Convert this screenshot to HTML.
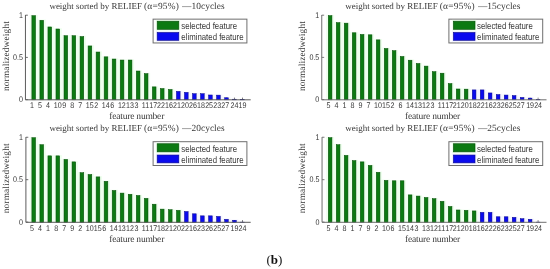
<!DOCTYPE html>
<html lang="en">
<head>
<meta charset="utf-8">
<title>RELIEF feature weights (b)</title>
<style>
html,body{margin:0;padding:0;background:#fff;}
body{width:550px;height:269px;overflow:hidden;position:relative;}
svg{display:block;position:absolute;left:0;top:0;text-rendering:geometricPrecision;}
.cap{position:absolute;left:266.5px;top:252.1px;font-family:"Liberation Serif",serif;font-size:13px;line-height:15px;color:#111;white-space:nowrap;}
.cap b{font-weight:bold;}
</style>
</head>
<body>
<svg width="550" height="269" viewBox="0 0 550 269">
<g>
<rect x="29.73" y="14.9" width="8" height="84.9" fill="#eeffee"/>
<rect x="37.76" y="19.54" width="8" height="80.26" fill="#eeffee"/>
<rect x="45.79" y="26.21" width="8" height="73.59" fill="#eeffee"/>
<rect x="53.82" y="28.24" width="8" height="71.56" fill="#eeffee"/>
<rect x="61.85" y="34.99" width="8" height="64.81" fill="#eeffee"/>
<rect x="69.88" y="34.99" width="8" height="64.81" fill="#eeffee"/>
<rect x="77.91" y="35.83" width="8" height="63.97" fill="#eeffee"/>
<rect x="85.94" y="45.2" width="8" height="54.6" fill="#eeffee"/>
<rect x="93.97" y="51.28" width="8" height="48.52" fill="#eeffee"/>
<rect x="102" y="56.09" width="8" height="43.71" fill="#eeffee"/>
<rect x="110.03" y="58.28" width="8" height="41.52" fill="#eeffee"/>
<rect x="118.06" y="59.29" width="8" height="40.51" fill="#eeffee"/>
<rect x="126.09" y="59.29" width="8" height="40.51" fill="#eeffee"/>
<rect x="134.12" y="70.27" width="8" height="29.53" fill="#eeffee"/>
<rect x="142.15" y="72.88" width="8" height="26.92" fill="#eeffee"/>
<rect x="150.18" y="86.13" width="8" height="13.67" fill="#eeffee"/>
<rect x="158.21" y="87.82" width="8" height="11.98" fill="#eeffee"/>
<rect x="166.24" y="88.75" width="8" height="11.05" fill="#eeffee"/>
<rect x="174.27" y="90.61" width="8" height="9.19" fill="#f5f5ff"/>
<rect x="182.3" y="91.62" width="8" height="8.18" fill="#f5f5ff"/>
<rect x="190.33" y="92.97" width="8" height="6.83" fill="#f5f5ff"/>
<rect x="198.36" y="92.97" width="8" height="6.83" fill="#f5f5ff"/>
<rect x="206.39" y="94.24" width="8" height="5.56" fill="#f5f5ff"/>
<rect x="214.42" y="94.4" width="8" height="5.4" fill="#f5f5ff"/>
<rect x="222.45" y="97.02" width="8" height="2.78" fill="#f5f5ff"/>
<line x1="33.73" y1="99.8" x2="33.73" y2="97.6" stroke="#5c5c5c" stroke-width="0.8"/>
<rect x="31.88" y="15.65" width="3.7" height="84.15" fill="#0c7a12" stroke="#064a09" stroke-width="0.5"/>
<line x1="41.76" y1="99.8" x2="41.76" y2="97.6" stroke="#5c5c5c" stroke-width="0.8"/>
<rect x="39.91" y="20.29" width="3.7" height="79.51" fill="#0c7a12" stroke="#064a09" stroke-width="0.5"/>
<line x1="49.79" y1="99.8" x2="49.79" y2="97.6" stroke="#5c5c5c" stroke-width="0.8"/>
<rect x="47.94" y="26.96" width="3.7" height="72.84" fill="#0c7a12" stroke="#064a09" stroke-width="0.5"/>
<line x1="57.82" y1="99.8" x2="57.82" y2="97.6" stroke="#5c5c5c" stroke-width="0.8"/>
<rect x="55.97" y="28.99" width="3.7" height="70.81" fill="#0c7a12" stroke="#064a09" stroke-width="0.5"/>
<line x1="65.85" y1="99.8" x2="65.85" y2="97.6" stroke="#5c5c5c" stroke-width="0.8"/>
<rect x="64" y="35.74" width="3.7" height="64.06" fill="#0c7a12" stroke="#064a09" stroke-width="0.5"/>
<line x1="73.88" y1="99.8" x2="73.88" y2="97.6" stroke="#5c5c5c" stroke-width="0.8"/>
<rect x="72.03" y="35.74" width="3.7" height="64.06" fill="#0c7a12" stroke="#064a09" stroke-width="0.5"/>
<line x1="81.91" y1="99.8" x2="81.91" y2="97.6" stroke="#5c5c5c" stroke-width="0.8"/>
<rect x="80.06" y="36.58" width="3.7" height="63.22" fill="#0c7a12" stroke="#064a09" stroke-width="0.5"/>
<line x1="89.94" y1="99.8" x2="89.94" y2="97.6" stroke="#5c5c5c" stroke-width="0.8"/>
<rect x="88.09" y="45.95" width="3.7" height="53.85" fill="#0c7a12" stroke="#064a09" stroke-width="0.5"/>
<line x1="97.97" y1="99.8" x2="97.97" y2="97.6" stroke="#5c5c5c" stroke-width="0.8"/>
<rect x="96.12" y="52.03" width="3.7" height="47.77" fill="#0c7a12" stroke="#064a09" stroke-width="0.5"/>
<line x1="106" y1="99.8" x2="106" y2="97.6" stroke="#5c5c5c" stroke-width="0.8"/>
<rect x="104.15" y="56.84" width="3.7" height="42.96" fill="#0c7a12" stroke="#064a09" stroke-width="0.5"/>
<line x1="114.03" y1="99.8" x2="114.03" y2="97.6" stroke="#5c5c5c" stroke-width="0.8"/>
<rect x="112.18" y="59.03" width="3.7" height="40.77" fill="#0c7a12" stroke="#064a09" stroke-width="0.5"/>
<line x1="122.06" y1="99.8" x2="122.06" y2="97.6" stroke="#5c5c5c" stroke-width="0.8"/>
<rect x="120.21" y="60.04" width="3.7" height="39.76" fill="#0c7a12" stroke="#064a09" stroke-width="0.5"/>
<line x1="130.09" y1="99.8" x2="130.09" y2="97.6" stroke="#5c5c5c" stroke-width="0.8"/>
<rect x="128.24" y="60.04" width="3.7" height="39.76" fill="#0c7a12" stroke="#064a09" stroke-width="0.5"/>
<line x1="138.12" y1="99.8" x2="138.12" y2="97.6" stroke="#5c5c5c" stroke-width="0.8"/>
<rect x="136.27" y="71.02" width="3.7" height="28.78" fill="#0c7a12" stroke="#064a09" stroke-width="0.5"/>
<line x1="146.15" y1="99.8" x2="146.15" y2="97.6" stroke="#5c5c5c" stroke-width="0.8"/>
<rect x="144.3" y="73.63" width="3.7" height="26.17" fill="#0c7a12" stroke="#064a09" stroke-width="0.5"/>
<line x1="154.18" y1="99.8" x2="154.18" y2="97.6" stroke="#5c5c5c" stroke-width="0.8"/>
<rect x="152.33" y="86.88" width="3.7" height="12.92" fill="#0c7a12" stroke="#064a09" stroke-width="0.5"/>
<line x1="162.21" y1="99.8" x2="162.21" y2="97.6" stroke="#5c5c5c" stroke-width="0.8"/>
<rect x="160.36" y="88.57" width="3.7" height="11.23" fill="#0c7a12" stroke="#064a09" stroke-width="0.5"/>
<line x1="170.24" y1="99.8" x2="170.24" y2="97.6" stroke="#5c5c5c" stroke-width="0.8"/>
<rect x="168.39" y="89.5" width="3.7" height="10.3" fill="#0c7a12" stroke="#064a09" stroke-width="0.5"/>
<line x1="178.27" y1="99.8" x2="178.27" y2="97.6" stroke="#5c5c5c" stroke-width="0.8"/>
<rect x="176.42" y="91.36" width="3.7" height="8.44" fill="#0a0aee" stroke="#08088a" stroke-width="0.5"/>
<line x1="186.3" y1="99.8" x2="186.3" y2="97.6" stroke="#5c5c5c" stroke-width="0.8"/>
<rect x="184.45" y="92.37" width="3.7" height="7.43" fill="#0a0aee" stroke="#08088a" stroke-width="0.5"/>
<line x1="194.33" y1="99.8" x2="194.33" y2="97.6" stroke="#5c5c5c" stroke-width="0.8"/>
<rect x="192.48" y="93.72" width="3.7" height="6.08" fill="#0a0aee" stroke="#08088a" stroke-width="0.5"/>
<line x1="202.36" y1="99.8" x2="202.36" y2="97.6" stroke="#5c5c5c" stroke-width="0.8"/>
<rect x="200.51" y="93.72" width="3.7" height="6.08" fill="#0a0aee" stroke="#08088a" stroke-width="0.5"/>
<line x1="210.39" y1="99.8" x2="210.39" y2="97.6" stroke="#5c5c5c" stroke-width="0.8"/>
<rect x="208.54" y="94.99" width="3.7" height="4.81" fill="#0a0aee" stroke="#08088a" stroke-width="0.5"/>
<line x1="218.42" y1="99.8" x2="218.42" y2="97.6" stroke="#5c5c5c" stroke-width="0.8"/>
<rect x="216.57" y="95.15" width="3.7" height="4.65" fill="#0a0aee" stroke="#08088a" stroke-width="0.5"/>
<line x1="226.45" y1="99.8" x2="226.45" y2="97.6" stroke="#5c5c5c" stroke-width="0.8"/>
<rect x="224.6" y="97.77" width="3.7" height="2.03" fill="#0a0aee" stroke="#08088a" stroke-width="0.5"/>
<line x1="234.48" y1="99.8" x2="234.48" y2="97.6" stroke="#5c5c5c" stroke-width="0.8"/>
<rect x="232.63" y="99.21" width="3.7" height="0.59" fill="#0a0aee" stroke="#08088a" stroke-width="0.5"/>
<line x1="242.51" y1="99.8" x2="242.51" y2="97.6" stroke="#5c5c5c" stroke-width="0.8"/>
<rect x="240.66" y="99.71" width="3.7" height="0.1" fill="#0a0aee" stroke="#08088a" stroke-width="0.5"/>
<path d="M25.45 15V99.8H250.7" fill="none" stroke="#5c5c5c" stroke-width="1"/>
<line x1="25.45" y1="99.6" x2="27.85" y2="99.6" stroke="#5c5c5c" stroke-width="0.9"/>
<text transform="translate(22.9 102.2) scale(0.87 1)" text-anchor="end" font-family='"Liberation Sans", sans-serif' font-size="8.2" fill="#383838">0</text>
<line x1="25.45" y1="57.4" x2="27.85" y2="57.4" stroke="#5c5c5c" stroke-width="0.9"/>
<text transform="translate(22.9 60) scale(0.87 1)" text-anchor="end" font-family='"Liberation Sans", sans-serif' font-size="8.2" fill="#383838">0.5</text>
<line x1="25.45" y1="15.2" x2="27.85" y2="15.2" stroke="#5c5c5c" stroke-width="0.9"/>
<text transform="translate(22.9 17.8) scale(0.87 1)" text-anchor="end" font-family='"Liberation Sans", sans-serif' font-size="8.2" fill="#383838">1</text>
<text transform="translate(32.03 108.3) scale(0.87 1)" text-anchor="middle" font-family='"Liberation Sans", sans-serif' font-size="8.2" fill="#383838">1</text>
<text transform="translate(40.06 108.3) scale(0.87 1)" text-anchor="middle" font-family='"Liberation Sans", sans-serif' font-size="8.2" fill="#383838">5</text>
<text transform="translate(48.09 108.3) scale(0.87 1)" text-anchor="middle" font-family='"Liberation Sans", sans-serif' font-size="8.2" fill="#383838">4</text>
<text transform="translate(57.62 108.3) scale(0.87 1)" text-anchor="middle" font-family='"Liberation Sans", sans-serif' font-size="8.2" fill="#383838">10</text>
<text transform="translate(64.15 108.3) scale(0.87 1)" text-anchor="middle" font-family='"Liberation Sans", sans-serif' font-size="8.2" fill="#383838">9</text>
<text transform="translate(72.18 108.3) scale(0.87 1)" text-anchor="middle" font-family='"Liberation Sans", sans-serif' font-size="8.2" fill="#383838">8</text>
<text transform="translate(80.21 108.3) scale(0.87 1)" text-anchor="middle" font-family='"Liberation Sans", sans-serif' font-size="8.2" fill="#383838">7</text>
<text transform="translate(89.74 108.3) scale(0.87 1)" text-anchor="middle" font-family='"Liberation Sans", sans-serif' font-size="8.2" fill="#383838">15</text>
<text transform="translate(96.27 108.3) scale(0.87 1)" text-anchor="middle" font-family='"Liberation Sans", sans-serif' font-size="8.2" fill="#383838">2</text>
<text transform="translate(105.8 108.3) scale(0.87 1)" text-anchor="middle" font-family='"Liberation Sans", sans-serif' font-size="8.2" fill="#383838">14</text>
<text transform="translate(112.33 108.3) scale(0.87 1)" text-anchor="middle" font-family='"Liberation Sans", sans-serif' font-size="8.2" fill="#383838">6</text>
<text transform="translate(121.86 108.3) scale(0.87 1)" text-anchor="middle" font-family='"Liberation Sans", sans-serif' font-size="8.2" fill="#383838">12</text>
<text transform="translate(129.89 108.3) scale(0.87 1)" text-anchor="middle" font-family='"Liberation Sans", sans-serif' font-size="8.2" fill="#383838">13</text>
<text transform="translate(136.42 108.3) scale(0.87 1)" text-anchor="middle" font-family='"Liberation Sans", sans-serif' font-size="8.2" fill="#383838">3</text>
<text transform="translate(145.55 108.3) scale(0.87 1)" text-anchor="middle" font-family='"Liberation Sans", sans-serif' font-size="8.2" fill="#383838">11</text>
<text transform="translate(153.28 108.3) scale(0.87 1)" text-anchor="middle" font-family='"Liberation Sans", sans-serif' font-size="8.2" fill="#383838">17</text>
<text transform="translate(160.91 108.3) scale(0.87 1)" text-anchor="middle" font-family='"Liberation Sans", sans-serif' font-size="8.2" fill="#383838">22</text>
<text transform="translate(168.94 108.3) scale(0.87 1)" text-anchor="middle" font-family='"Liberation Sans", sans-serif' font-size="8.2" fill="#383838">16</text>
<text transform="translate(176.97 108.3) scale(0.87 1)" text-anchor="middle" font-family='"Liberation Sans", sans-serif' font-size="8.2" fill="#383838">21</text>
<text transform="translate(185 108.3) scale(0.87 1)" text-anchor="middle" font-family='"Liberation Sans", sans-serif' font-size="8.2" fill="#383838">20</text>
<text transform="translate(193.03 108.3) scale(0.87 1)" text-anchor="middle" font-family='"Liberation Sans", sans-serif' font-size="8.2" fill="#383838">26</text>
<text transform="translate(201.06 108.3) scale(0.87 1)" text-anchor="middle" font-family='"Liberation Sans", sans-serif' font-size="8.2" fill="#383838">18</text>
<text transform="translate(209.09 108.3) scale(0.87 1)" text-anchor="middle" font-family='"Liberation Sans", sans-serif' font-size="8.2" fill="#383838">25</text>
<text transform="translate(217.12 108.3) scale(0.87 1)" text-anchor="middle" font-family='"Liberation Sans", sans-serif' font-size="8.2" fill="#383838">23</text>
<text transform="translate(225.15 108.3) scale(0.87 1)" text-anchor="middle" font-family='"Liberation Sans", sans-serif' font-size="8.2" fill="#383838">27</text>
<text transform="translate(234.48 108.3) scale(0.87 1)" text-anchor="middle" font-family='"Liberation Sans", sans-serif' font-size="8.2" fill="#383838">24</text>
<text transform="translate(242.51 108.3) scale(0.87 1)" text-anchor="middle" font-family='"Liberation Sans", sans-serif' font-size="8.2" fill="#383838">19</text>
<text x="49.4" y="8.5" textLength="92.5" font-family='"Liberation Serif", serif' font-size="9" fill="#383838">weight sorted by RELIEF</text>
<text x="143.9" y="8.5" textLength="35" font-family='"Liberation Serif", serif' font-size="9.4" fill="#383838">(α=95%)</text>
<text x="182.1" y="8.5" textLength="42.5" font-family='"Liberation Serif", serif' font-size="9.4" fill="#383838">—10cycles</text>
<text x="136.8" y="119.4" text-anchor="middle" textLength="55" font-family='"Liberation Serif", serif' font-size="9.5" fill="#383838">feature number</text>
<text transform="translate(8.7 56.1) rotate(-90)" text-anchor="middle" textLength="69.9" font-family='"Liberation Serif", serif' font-size="9.25" fill="#383838">normalizedweight</text>
<rect x="153.1" y="19.15" width="93.8" height="23.8" fill="#fff" stroke="#6e6e6e" stroke-width="1"/>
<rect x="155.9" y="19.9" width="24.2" height="10.7" fill="#eaffea"/>
<rect x="157.2" y="21.2" width="21.6" height="8.1" fill="#0c7a12" stroke="#064a09" stroke-width="0.6"/>
<rect x="155.9" y="31.2" width="24.2" height="10.4" fill="#efefff"/>
<rect x="157.2" y="32.5" width="21.6" height="7.8" fill="#0a0aee" stroke="#08088a" stroke-width="0.6"/>
<text transform="translate(181.3 29.3) scale(0.835 1)" font-family='"Liberation Sans", sans-serif' font-size="9.4" fill="#383838">selected feature</text>
<text transform="translate(181.3 40.3) scale(0.835 1)" font-family='"Liberation Sans", sans-serif' font-size="9.4" fill="#383838">eliminated feature</text>
</g>
<g>
<rect x="326.1" y="14.9" width="8" height="84.9" fill="#eeffee"/>
<rect x="334.1" y="21.91" width="8" height="77.89" fill="#eeffee"/>
<rect x="342.1" y="22.41" width="8" height="77.39" fill="#eeffee"/>
<rect x="350.1" y="32.03" width="8" height="67.77" fill="#eeffee"/>
<rect x="358.1" y="33.72" width="8" height="66.08" fill="#eeffee"/>
<rect x="366.1" y="34.06" width="8" height="65.74" fill="#eeffee"/>
<rect x="374.1" y="39.12" width="8" height="60.68" fill="#eeffee"/>
<rect x="382.1" y="47.73" width="8" height="52.07" fill="#eeffee"/>
<rect x="390.1" y="49.93" width="8" height="49.87" fill="#eeffee"/>
<rect x="398.1" y="55.75" width="8" height="44.05" fill="#eeffee"/>
<rect x="406.1" y="59.46" width="8" height="40.34" fill="#eeffee"/>
<rect x="414.1" y="62.75" width="8" height="37.05" fill="#eeffee"/>
<rect x="422.1" y="65.37" width="8" height="34.43" fill="#eeffee"/>
<rect x="430.1" y="70.94" width="8" height="28.86" fill="#eeffee"/>
<rect x="438.1" y="72.46" width="8" height="27.34" fill="#eeffee"/>
<rect x="446.1" y="82.84" width="8" height="16.96" fill="#eeffee"/>
<rect x="454.1" y="88.24" width="8" height="11.56" fill="#eeffee"/>
<rect x="462.1" y="88.41" width="8" height="11.39" fill="#eeffee"/>
<rect x="470.1" y="89.17" width="8" height="10.63" fill="#f5f5ff"/>
<rect x="478.1" y="89.17" width="8" height="10.63" fill="#f5f5ff"/>
<rect x="486.1" y="92.21" width="8" height="7.59" fill="#f5f5ff"/>
<rect x="494.1" y="93.81" width="8" height="5.99" fill="#f5f5ff"/>
<rect x="502.1" y="94.32" width="8" height="5.48" fill="#f5f5ff"/>
<rect x="510.1" y="94.83" width="8" height="4.97" fill="#f5f5ff"/>
<rect x="518.1" y="96.77" width="8" height="3.03" fill="#f5f5ff"/>
<rect x="526.1" y="97.36" width="8" height="2.44" fill="#f5f5ff"/>
<line x1="330.1" y1="99.8" x2="330.1" y2="97.6" stroke="#6e6e6e" stroke-width="0.8"/>
<rect x="328.25" y="15.65" width="3.7" height="84.15" fill="#0c7a12" stroke="#064a09" stroke-width="0.5"/>
<line x1="338.1" y1="99.8" x2="338.1" y2="97.6" stroke="#6e6e6e" stroke-width="0.8"/>
<rect x="336.25" y="22.66" width="3.7" height="77.14" fill="#0c7a12" stroke="#064a09" stroke-width="0.5"/>
<line x1="346.1" y1="99.8" x2="346.1" y2="97.6" stroke="#6e6e6e" stroke-width="0.8"/>
<rect x="344.25" y="23.16" width="3.7" height="76.64" fill="#0c7a12" stroke="#064a09" stroke-width="0.5"/>
<line x1="354.1" y1="99.8" x2="354.1" y2="97.6" stroke="#6e6e6e" stroke-width="0.8"/>
<rect x="352.25" y="32.78" width="3.7" height="67.02" fill="#0c7a12" stroke="#064a09" stroke-width="0.5"/>
<line x1="362.1" y1="99.8" x2="362.1" y2="97.6" stroke="#6e6e6e" stroke-width="0.8"/>
<rect x="360.25" y="34.47" width="3.7" height="65.33" fill="#0c7a12" stroke="#064a09" stroke-width="0.5"/>
<line x1="370.1" y1="99.8" x2="370.1" y2="97.6" stroke="#6e6e6e" stroke-width="0.8"/>
<rect x="368.25" y="34.81" width="3.7" height="64.99" fill="#0c7a12" stroke="#064a09" stroke-width="0.5"/>
<line x1="378.1" y1="99.8" x2="378.1" y2="97.6" stroke="#6e6e6e" stroke-width="0.8"/>
<rect x="376.25" y="39.87" width="3.7" height="59.93" fill="#0c7a12" stroke="#064a09" stroke-width="0.5"/>
<line x1="386.1" y1="99.8" x2="386.1" y2="97.6" stroke="#6e6e6e" stroke-width="0.8"/>
<rect x="384.25" y="48.48" width="3.7" height="51.32" fill="#0c7a12" stroke="#064a09" stroke-width="0.5"/>
<line x1="394.1" y1="99.8" x2="394.1" y2="97.6" stroke="#6e6e6e" stroke-width="0.8"/>
<rect x="392.25" y="50.68" width="3.7" height="49.12" fill="#0c7a12" stroke="#064a09" stroke-width="0.5"/>
<line x1="402.1" y1="99.8" x2="402.1" y2="97.6" stroke="#6e6e6e" stroke-width="0.8"/>
<rect x="400.25" y="56.5" width="3.7" height="43.3" fill="#0c7a12" stroke="#064a09" stroke-width="0.5"/>
<line x1="410.1" y1="99.8" x2="410.1" y2="97.6" stroke="#6e6e6e" stroke-width="0.8"/>
<rect x="408.25" y="60.21" width="3.7" height="39.59" fill="#0c7a12" stroke="#064a09" stroke-width="0.5"/>
<line x1="418.1" y1="99.8" x2="418.1" y2="97.6" stroke="#6e6e6e" stroke-width="0.8"/>
<rect x="416.25" y="63.5" width="3.7" height="36.3" fill="#0c7a12" stroke="#064a09" stroke-width="0.5"/>
<line x1="426.1" y1="99.8" x2="426.1" y2="97.6" stroke="#6e6e6e" stroke-width="0.8"/>
<rect x="424.25" y="66.12" width="3.7" height="33.68" fill="#0c7a12" stroke="#064a09" stroke-width="0.5"/>
<line x1="434.1" y1="99.8" x2="434.1" y2="97.6" stroke="#6e6e6e" stroke-width="0.8"/>
<rect x="432.25" y="71.69" width="3.7" height="28.11" fill="#0c7a12" stroke="#064a09" stroke-width="0.5"/>
<line x1="442.1" y1="99.8" x2="442.1" y2="97.6" stroke="#6e6e6e" stroke-width="0.8"/>
<rect x="440.25" y="73.21" width="3.7" height="26.59" fill="#0c7a12" stroke="#064a09" stroke-width="0.5"/>
<line x1="450.1" y1="99.8" x2="450.1" y2="97.6" stroke="#6e6e6e" stroke-width="0.8"/>
<rect x="448.25" y="83.59" width="3.7" height="16.21" fill="#0c7a12" stroke="#064a09" stroke-width="0.5"/>
<line x1="458.1" y1="99.8" x2="458.1" y2="97.6" stroke="#6e6e6e" stroke-width="0.8"/>
<rect x="456.25" y="88.99" width="3.7" height="10.81" fill="#0c7a12" stroke="#064a09" stroke-width="0.5"/>
<line x1="466.1" y1="99.8" x2="466.1" y2="97.6" stroke="#6e6e6e" stroke-width="0.8"/>
<rect x="464.25" y="89.16" width="3.7" height="10.64" fill="#0c7a12" stroke="#064a09" stroke-width="0.5"/>
<line x1="474.1" y1="99.8" x2="474.1" y2="97.6" stroke="#6e6e6e" stroke-width="0.8"/>
<rect x="472.25" y="89.92" width="3.7" height="9.88" fill="#0a0aee" stroke="#08088a" stroke-width="0.5"/>
<line x1="482.1" y1="99.8" x2="482.1" y2="97.6" stroke="#6e6e6e" stroke-width="0.8"/>
<rect x="480.25" y="89.92" width="3.7" height="9.88" fill="#0a0aee" stroke="#08088a" stroke-width="0.5"/>
<line x1="490.1" y1="99.8" x2="490.1" y2="97.6" stroke="#6e6e6e" stroke-width="0.8"/>
<rect x="488.25" y="92.96" width="3.7" height="6.84" fill="#0a0aee" stroke="#08088a" stroke-width="0.5"/>
<line x1="498.1" y1="99.8" x2="498.1" y2="97.6" stroke="#6e6e6e" stroke-width="0.8"/>
<rect x="496.25" y="94.56" width="3.7" height="5.24" fill="#0a0aee" stroke="#08088a" stroke-width="0.5"/>
<line x1="506.1" y1="99.8" x2="506.1" y2="97.6" stroke="#6e6e6e" stroke-width="0.8"/>
<rect x="504.25" y="95.07" width="3.7" height="4.73" fill="#0a0aee" stroke="#08088a" stroke-width="0.5"/>
<line x1="514.1" y1="99.8" x2="514.1" y2="97.6" stroke="#6e6e6e" stroke-width="0.8"/>
<rect x="512.25" y="95.58" width="3.7" height="4.22" fill="#0a0aee" stroke="#08088a" stroke-width="0.5"/>
<line x1="522.1" y1="99.8" x2="522.1" y2="97.6" stroke="#6e6e6e" stroke-width="0.8"/>
<rect x="520.25" y="97.52" width="3.7" height="2.28" fill="#0a0aee" stroke="#08088a" stroke-width="0.5"/>
<line x1="530.1" y1="99.8" x2="530.1" y2="97.6" stroke="#6e6e6e" stroke-width="0.8"/>
<rect x="528.25" y="98.11" width="3.7" height="1.69" fill="#0a0aee" stroke="#08088a" stroke-width="0.5"/>
<line x1="538.1" y1="99.8" x2="538.1" y2="97.6" stroke="#6e6e6e" stroke-width="0.8"/>
<rect x="536.25" y="99.63" width="3.7" height="0.17" fill="#0a0aee" stroke="#08088a" stroke-width="0.5"/>
<path d="M321.75 15V99.8H546.5" fill="none" stroke="#6e6e6e" stroke-width="1"/>
<line x1="321.75" y1="99.6" x2="324.15" y2="99.6" stroke="#6e6e6e" stroke-width="0.9"/>
<text transform="translate(319.34 102.2) scale(0.87 1)" text-anchor="end" font-family='"Liberation Sans", sans-serif' font-size="8.2" fill="#383838">0</text>
<line x1="321.75" y1="57.4" x2="324.15" y2="57.4" stroke="#6e6e6e" stroke-width="0.9"/>
<text transform="translate(319.34 60) scale(0.87 1)" text-anchor="end" font-family='"Liberation Sans", sans-serif' font-size="8.2" fill="#383838">0.5</text>
<line x1="321.75" y1="15.2" x2="324.15" y2="15.2" stroke="#6e6e6e" stroke-width="0.9"/>
<text transform="translate(319.34 17.8) scale(0.87 1)" text-anchor="end" font-family='"Liberation Sans", sans-serif' font-size="8.2" fill="#383838">1</text>
<text transform="translate(328.4 108.3) scale(0.87 1)" text-anchor="middle" font-family='"Liberation Sans", sans-serif' font-size="8.2" fill="#383838">5</text>
<text transform="translate(336.4 108.3) scale(0.87 1)" text-anchor="middle" font-family='"Liberation Sans", sans-serif' font-size="8.2" fill="#383838">4</text>
<text transform="translate(344.4 108.3) scale(0.87 1)" text-anchor="middle" font-family='"Liberation Sans", sans-serif' font-size="8.2" fill="#383838">1</text>
<text transform="translate(352.4 108.3) scale(0.87 1)" text-anchor="middle" font-family='"Liberation Sans", sans-serif' font-size="8.2" fill="#383838">8</text>
<text transform="translate(360.4 108.3) scale(0.87 1)" text-anchor="middle" font-family='"Liberation Sans", sans-serif' font-size="8.2" fill="#383838">9</text>
<text transform="translate(368.4 108.3) scale(0.87 1)" text-anchor="middle" font-family='"Liberation Sans", sans-serif' font-size="8.2" fill="#383838">7</text>
<text transform="translate(377.9 108.3) scale(0.87 1)" text-anchor="middle" font-family='"Liberation Sans", sans-serif' font-size="8.2" fill="#383838">10</text>
<text transform="translate(385.9 108.3) scale(0.87 1)" text-anchor="middle" font-family='"Liberation Sans", sans-serif' font-size="8.2" fill="#383838">15</text>
<text transform="translate(392.4 108.3) scale(0.87 1)" text-anchor="middle" font-family='"Liberation Sans", sans-serif' font-size="8.2" fill="#383838">2</text>
<text transform="translate(400.4 108.3) scale(0.87 1)" text-anchor="middle" font-family='"Liberation Sans", sans-serif' font-size="8.2" fill="#383838">6</text>
<text transform="translate(409.9 108.3) scale(0.87 1)" text-anchor="middle" font-family='"Liberation Sans", sans-serif' font-size="8.2" fill="#383838">14</text>
<text transform="translate(417.9 108.3) scale(0.87 1)" text-anchor="middle" font-family='"Liberation Sans", sans-serif' font-size="8.2" fill="#383838">13</text>
<text transform="translate(425.9 108.3) scale(0.87 1)" text-anchor="middle" font-family='"Liberation Sans", sans-serif' font-size="8.2" fill="#383838">12</text>
<text transform="translate(432.4 108.3) scale(0.87 1)" text-anchor="middle" font-family='"Liberation Sans", sans-serif' font-size="8.2" fill="#383838">3</text>
<text transform="translate(441.5 108.3) scale(0.87 1)" text-anchor="middle" font-family='"Liberation Sans", sans-serif' font-size="8.2" fill="#383838">11</text>
<text transform="translate(449.2 108.3) scale(0.87 1)" text-anchor="middle" font-family='"Liberation Sans", sans-serif' font-size="8.2" fill="#383838">17</text>
<text transform="translate(456.8 108.3) scale(0.87 1)" text-anchor="middle" font-family='"Liberation Sans", sans-serif' font-size="8.2" fill="#383838">21</text>
<text transform="translate(464.8 108.3) scale(0.87 1)" text-anchor="middle" font-family='"Liberation Sans", sans-serif' font-size="8.2" fill="#383838">20</text>
<text transform="translate(472.8 108.3) scale(0.87 1)" text-anchor="middle" font-family='"Liberation Sans", sans-serif' font-size="8.2" fill="#383838">18</text>
<text transform="translate(480.8 108.3) scale(0.87 1)" text-anchor="middle" font-family='"Liberation Sans", sans-serif' font-size="8.2" fill="#383838">22</text>
<text transform="translate(488.8 108.3) scale(0.87 1)" text-anchor="middle" font-family='"Liberation Sans", sans-serif' font-size="8.2" fill="#383838">16</text>
<text transform="translate(496.8 108.3) scale(0.87 1)" text-anchor="middle" font-family='"Liberation Sans", sans-serif' font-size="8.2" fill="#383838">23</text>
<text transform="translate(504.8 108.3) scale(0.87 1)" text-anchor="middle" font-family='"Liberation Sans", sans-serif' font-size="8.2" fill="#383838">26</text>
<text transform="translate(512.8 108.3) scale(0.87 1)" text-anchor="middle" font-family='"Liberation Sans", sans-serif' font-size="8.2" fill="#383838">25</text>
<text transform="translate(520.8 108.3) scale(0.87 1)" text-anchor="middle" font-family='"Liberation Sans", sans-serif' font-size="8.2" fill="#383838">27</text>
<text transform="translate(530.1 108.3) scale(0.87 1)" text-anchor="middle" font-family='"Liberation Sans", sans-serif' font-size="8.2" fill="#383838">19</text>
<text transform="translate(538.1 108.3) scale(0.87 1)" text-anchor="middle" font-family='"Liberation Sans", sans-serif' font-size="8.2" fill="#383838">24</text>
<text x="345.2" y="8.5" textLength="92.5" font-family='"Liberation Serif", serif' font-size="9" fill="#383838">weight sorted by RELIEF</text>
<text x="439.7" y="8.5" textLength="35" font-family='"Liberation Serif", serif' font-size="9.4" fill="#383838">(α=95%)</text>
<text x="477.9" y="8.5" textLength="42.5" font-family='"Liberation Serif", serif' font-size="9.4" fill="#383838">—15cycles</text>
<text x="432.6" y="119.4" text-anchor="middle" textLength="55" font-family='"Liberation Serif", serif' font-size="9.5" fill="#383838">feature number</text>
<text transform="translate(305.3 56.1) rotate(-90)" text-anchor="middle" textLength="69.9" font-family='"Liberation Serif", serif' font-size="9.25" fill="#383838">normalizedweight</text>
<rect x="448.9" y="19.15" width="93.8" height="23.8" fill="#fff" stroke="#6e6e6e" stroke-width="1"/>
<rect x="452.1" y="19.9" width="24.2" height="10.7" fill="#eaffea"/>
<rect x="453.4" y="21.2" width="21.6" height="8.1" fill="#0c7a12" stroke="#064a09" stroke-width="0.6"/>
<rect x="452.1" y="31.2" width="24.2" height="10.4" fill="#efefff"/>
<rect x="453.4" y="32.5" width="21.6" height="7.8" fill="#0a0aee" stroke="#08088a" stroke-width="0.6"/>
<text transform="translate(477.1 29.3) scale(0.835 1)" font-family='"Liberation Sans", sans-serif' font-size="9.4" fill="#383838">selected feature</text>
<text transform="translate(477.1 40.3) scale(0.835 1)" font-family='"Liberation Sans", sans-serif' font-size="9.4" fill="#383838">eliminated feature</text>
</g>
<g>
<rect x="29.73" y="136.95" width="8" height="85.35" fill="#eeffee"/>
<rect x="37.76" y="143.99" width="8" height="78.31" fill="#eeffee"/>
<rect x="45.79" y="155.11" width="8" height="67.19" fill="#eeffee"/>
<rect x="53.82" y="155.11" width="8" height="67.19" fill="#eeffee"/>
<rect x="61.85" y="158.67" width="8" height="63.63" fill="#eeffee"/>
<rect x="69.88" y="161.13" width="8" height="61.17" fill="#eeffee"/>
<rect x="77.91" y="171.99" width="8" height="50.31" fill="#eeffee"/>
<rect x="85.94" y="173.77" width="8" height="48.53" fill="#eeffee"/>
<rect x="93.97" y="176.15" width="8" height="46.15" fill="#eeffee"/>
<rect x="102" y="180.56" width="8" height="41.74" fill="#eeffee"/>
<rect x="110.03" y="189.73" width="8" height="32.57" fill="#eeffee"/>
<rect x="118.06" y="192.36" width="8" height="29.94" fill="#eeffee"/>
<rect x="126.09" y="193.54" width="8" height="28.76" fill="#eeffee"/>
<rect x="134.12" y="194.73" width="8" height="27.57" fill="#eeffee"/>
<rect x="142.15" y="197.62" width="8" height="24.68" fill="#eeffee"/>
<rect x="150.18" y="203.47" width="8" height="18.83" fill="#eeffee"/>
<rect x="158.21" y="208.39" width="8" height="13.91" fill="#eeffee"/>
<rect x="166.24" y="208.99" width="8" height="13.31" fill="#eeffee"/>
<rect x="174.27" y="209.58" width="8" height="12.72" fill="#eeffee"/>
<rect x="182.3" y="210.77" width="8" height="11.53" fill="#f5f5ff"/>
<rect x="190.33" y="213.06" width="8" height="9.24" fill="#f5f5ff"/>
<rect x="198.36" y="215.1" width="8" height="7.2" fill="#f5f5ff"/>
<rect x="206.39" y="215.1" width="8" height="7.2" fill="#f5f5ff"/>
<rect x="214.42" y="215.69" width="8" height="6.61" fill="#f5f5ff"/>
<rect x="222.45" y="218.58" width="8" height="3.72" fill="#f5f5ff"/>
<rect x="230.48" y="219.51" width="8" height="2.79" fill="#f5f5ff"/>
<line x1="33.73" y1="222.3" x2="33.73" y2="220.1" stroke="#5c5c5c" stroke-width="0.8"/>
<rect x="31.88" y="137.7" width="3.7" height="84.6" fill="#0c7a12" stroke="#064a09" stroke-width="0.5"/>
<line x1="41.76" y1="222.3" x2="41.76" y2="220.1" stroke="#5c5c5c" stroke-width="0.8"/>
<rect x="39.91" y="144.74" width="3.7" height="77.56" fill="#0c7a12" stroke="#064a09" stroke-width="0.5"/>
<line x1="49.79" y1="222.3" x2="49.79" y2="220.1" stroke="#5c5c5c" stroke-width="0.8"/>
<rect x="47.94" y="155.86" width="3.7" height="66.44" fill="#0c7a12" stroke="#064a09" stroke-width="0.5"/>
<line x1="57.82" y1="222.3" x2="57.82" y2="220.1" stroke="#5c5c5c" stroke-width="0.8"/>
<rect x="55.97" y="155.86" width="3.7" height="66.44" fill="#0c7a12" stroke="#064a09" stroke-width="0.5"/>
<line x1="65.85" y1="222.3" x2="65.85" y2="220.1" stroke="#5c5c5c" stroke-width="0.8"/>
<rect x="64" y="159.42" width="3.7" height="62.88" fill="#0c7a12" stroke="#064a09" stroke-width="0.5"/>
<line x1="73.88" y1="222.3" x2="73.88" y2="220.1" stroke="#5c5c5c" stroke-width="0.8"/>
<rect x="72.03" y="161.88" width="3.7" height="60.42" fill="#0c7a12" stroke="#064a09" stroke-width="0.5"/>
<line x1="81.91" y1="222.3" x2="81.91" y2="220.1" stroke="#5c5c5c" stroke-width="0.8"/>
<rect x="80.06" y="172.74" width="3.7" height="49.56" fill="#0c7a12" stroke="#064a09" stroke-width="0.5"/>
<line x1="89.94" y1="222.3" x2="89.94" y2="220.1" stroke="#5c5c5c" stroke-width="0.8"/>
<rect x="88.09" y="174.52" width="3.7" height="47.78" fill="#0c7a12" stroke="#064a09" stroke-width="0.5"/>
<line x1="97.97" y1="222.3" x2="97.97" y2="220.1" stroke="#5c5c5c" stroke-width="0.8"/>
<rect x="96.12" y="176.9" width="3.7" height="45.4" fill="#0c7a12" stroke="#064a09" stroke-width="0.5"/>
<line x1="106" y1="222.3" x2="106" y2="220.1" stroke="#5c5c5c" stroke-width="0.8"/>
<rect x="104.15" y="181.31" width="3.7" height="40.99" fill="#0c7a12" stroke="#064a09" stroke-width="0.5"/>
<line x1="114.03" y1="222.3" x2="114.03" y2="220.1" stroke="#5c5c5c" stroke-width="0.8"/>
<rect x="112.18" y="190.48" width="3.7" height="31.82" fill="#0c7a12" stroke="#064a09" stroke-width="0.5"/>
<line x1="122.06" y1="222.3" x2="122.06" y2="220.1" stroke="#5c5c5c" stroke-width="0.8"/>
<rect x="120.21" y="193.11" width="3.7" height="29.19" fill="#0c7a12" stroke="#064a09" stroke-width="0.5"/>
<line x1="130.09" y1="222.3" x2="130.09" y2="220.1" stroke="#5c5c5c" stroke-width="0.8"/>
<rect x="128.24" y="194.29" width="3.7" height="28.01" fill="#0c7a12" stroke="#064a09" stroke-width="0.5"/>
<line x1="138.12" y1="222.3" x2="138.12" y2="220.1" stroke="#5c5c5c" stroke-width="0.8"/>
<rect x="136.27" y="195.48" width="3.7" height="26.82" fill="#0c7a12" stroke="#064a09" stroke-width="0.5"/>
<line x1="146.15" y1="222.3" x2="146.15" y2="220.1" stroke="#5c5c5c" stroke-width="0.8"/>
<rect x="144.3" y="198.37" width="3.7" height="23.93" fill="#0c7a12" stroke="#064a09" stroke-width="0.5"/>
<line x1="154.18" y1="222.3" x2="154.18" y2="220.1" stroke="#5c5c5c" stroke-width="0.8"/>
<rect x="152.33" y="204.22" width="3.7" height="18.08" fill="#0c7a12" stroke="#064a09" stroke-width="0.5"/>
<line x1="162.21" y1="222.3" x2="162.21" y2="220.1" stroke="#5c5c5c" stroke-width="0.8"/>
<rect x="160.36" y="209.14" width="3.7" height="13.16" fill="#0c7a12" stroke="#064a09" stroke-width="0.5"/>
<line x1="170.24" y1="222.3" x2="170.24" y2="220.1" stroke="#5c5c5c" stroke-width="0.8"/>
<rect x="168.39" y="209.74" width="3.7" height="12.56" fill="#0c7a12" stroke="#064a09" stroke-width="0.5"/>
<line x1="178.27" y1="222.3" x2="178.27" y2="220.1" stroke="#5c5c5c" stroke-width="0.8"/>
<rect x="176.42" y="210.33" width="3.7" height="11.97" fill="#0c7a12" stroke="#064a09" stroke-width="0.5"/>
<line x1="186.3" y1="222.3" x2="186.3" y2="220.1" stroke="#5c5c5c" stroke-width="0.8"/>
<rect x="184.45" y="211.52" width="3.7" height="10.78" fill="#0a0aee" stroke="#08088a" stroke-width="0.5"/>
<line x1="194.33" y1="222.3" x2="194.33" y2="220.1" stroke="#5c5c5c" stroke-width="0.8"/>
<rect x="192.48" y="213.81" width="3.7" height="8.49" fill="#0a0aee" stroke="#08088a" stroke-width="0.5"/>
<line x1="202.36" y1="222.3" x2="202.36" y2="220.1" stroke="#5c5c5c" stroke-width="0.8"/>
<rect x="200.51" y="215.85" width="3.7" height="6.45" fill="#0a0aee" stroke="#08088a" stroke-width="0.5"/>
<line x1="210.39" y1="222.3" x2="210.39" y2="220.1" stroke="#5c5c5c" stroke-width="0.8"/>
<rect x="208.54" y="215.85" width="3.7" height="6.45" fill="#0a0aee" stroke="#08088a" stroke-width="0.5"/>
<line x1="218.42" y1="222.3" x2="218.42" y2="220.1" stroke="#5c5c5c" stroke-width="0.8"/>
<rect x="216.57" y="216.44" width="3.7" height="5.86" fill="#0a0aee" stroke="#08088a" stroke-width="0.5"/>
<line x1="226.45" y1="222.3" x2="226.45" y2="220.1" stroke="#5c5c5c" stroke-width="0.8"/>
<rect x="224.6" y="219.33" width="3.7" height="2.97" fill="#0a0aee" stroke="#08088a" stroke-width="0.5"/>
<line x1="234.48" y1="222.3" x2="234.48" y2="220.1" stroke="#5c5c5c" stroke-width="0.8"/>
<rect x="232.63" y="220.26" width="3.7" height="2.04" fill="#0a0aee" stroke="#08088a" stroke-width="0.5"/>
<line x1="242.51" y1="222.3" x2="242.51" y2="220.1" stroke="#5c5c5c" stroke-width="0.8"/>
<rect x="240.66" y="222.13" width="3.7" height="0.17" fill="#0a0aee" stroke="#08088a" stroke-width="0.5"/>
<path d="M25.9 137.05V222.3H250.7" fill="none" stroke="#5c5c5c" stroke-width="1"/>
<line x1="25.9" y1="222.1" x2="28.3" y2="222.1" stroke="#5c5c5c" stroke-width="0.9"/>
<text transform="translate(22.9 224.7) scale(0.87 1)" text-anchor="end" font-family='"Liberation Sans", sans-serif' font-size="8.2" fill="#383838">0</text>
<line x1="25.9" y1="179.68" x2="28.3" y2="179.68" stroke="#5c5c5c" stroke-width="0.9"/>
<text transform="translate(22.9 182.28) scale(0.87 1)" text-anchor="end" font-family='"Liberation Sans", sans-serif' font-size="8.2" fill="#383838">0.5</text>
<line x1="25.9" y1="137.25" x2="28.3" y2="137.25" stroke="#5c5c5c" stroke-width="0.9"/>
<text transform="translate(22.9 139.85) scale(0.87 1)" text-anchor="end" font-family='"Liberation Sans", sans-serif' font-size="8.2" fill="#383838">1</text>
<text transform="translate(32.03 230.8) scale(0.87 1)" text-anchor="middle" font-family='"Liberation Sans", sans-serif' font-size="8.2" fill="#383838">5</text>
<text transform="translate(40.06 230.8) scale(0.87 1)" text-anchor="middle" font-family='"Liberation Sans", sans-serif' font-size="8.2" fill="#383838">4</text>
<text transform="translate(48.09 230.8) scale(0.87 1)" text-anchor="middle" font-family='"Liberation Sans", sans-serif' font-size="8.2" fill="#383838">1</text>
<text transform="translate(56.12 230.8) scale(0.87 1)" text-anchor="middle" font-family='"Liberation Sans", sans-serif' font-size="8.2" fill="#383838">8</text>
<text transform="translate(64.15 230.8) scale(0.87 1)" text-anchor="middle" font-family='"Liberation Sans", sans-serif' font-size="8.2" fill="#383838">7</text>
<text transform="translate(72.18 230.8) scale(0.87 1)" text-anchor="middle" font-family='"Liberation Sans", sans-serif' font-size="8.2" fill="#383838">9</text>
<text transform="translate(80.21 230.8) scale(0.87 1)" text-anchor="middle" font-family='"Liberation Sans", sans-serif' font-size="8.2" fill="#383838">2</text>
<text transform="translate(89.74 230.8) scale(0.87 1)" text-anchor="middle" font-family='"Liberation Sans", sans-serif' font-size="8.2" fill="#383838">10</text>
<text transform="translate(97.77 230.8) scale(0.87 1)" text-anchor="middle" font-family='"Liberation Sans", sans-serif' font-size="8.2" fill="#383838">15</text>
<text transform="translate(104.3 230.8) scale(0.87 1)" text-anchor="middle" font-family='"Liberation Sans", sans-serif' font-size="8.2" fill="#383838">6</text>
<text transform="translate(113.83 230.8) scale(0.87 1)" text-anchor="middle" font-family='"Liberation Sans", sans-serif' font-size="8.2" fill="#383838">14</text>
<text transform="translate(121.86 230.8) scale(0.87 1)" text-anchor="middle" font-family='"Liberation Sans", sans-serif' font-size="8.2" fill="#383838">13</text>
<text transform="translate(129.89 230.8) scale(0.87 1)" text-anchor="middle" font-family='"Liberation Sans", sans-serif' font-size="8.2" fill="#383838">12</text>
<text transform="translate(136.42 230.8) scale(0.87 1)" text-anchor="middle" font-family='"Liberation Sans", sans-serif' font-size="8.2" fill="#383838">3</text>
<text transform="translate(145.55 230.8) scale(0.87 1)" text-anchor="middle" font-family='"Liberation Sans", sans-serif' font-size="8.2" fill="#383838">11</text>
<text transform="translate(153.28 230.8) scale(0.87 1)" text-anchor="middle" font-family='"Liberation Sans", sans-serif' font-size="8.2" fill="#383838">17</text>
<text transform="translate(160.91 230.8) scale(0.87 1)" text-anchor="middle" font-family='"Liberation Sans", sans-serif' font-size="8.2" fill="#383838">18</text>
<text transform="translate(168.94 230.8) scale(0.87 1)" text-anchor="middle" font-family='"Liberation Sans", sans-serif' font-size="8.2" fill="#383838">21</text>
<text transform="translate(176.97 230.8) scale(0.87 1)" text-anchor="middle" font-family='"Liberation Sans", sans-serif' font-size="8.2" fill="#383838">20</text>
<text transform="translate(185 230.8) scale(0.87 1)" text-anchor="middle" font-family='"Liberation Sans", sans-serif' font-size="8.2" fill="#383838">22</text>
<text transform="translate(193.03 230.8) scale(0.87 1)" text-anchor="middle" font-family='"Liberation Sans", sans-serif' font-size="8.2" fill="#383838">16</text>
<text transform="translate(201.06 230.8) scale(0.87 1)" text-anchor="middle" font-family='"Liberation Sans", sans-serif' font-size="8.2" fill="#383838">23</text>
<text transform="translate(209.09 230.8) scale(0.87 1)" text-anchor="middle" font-family='"Liberation Sans", sans-serif' font-size="8.2" fill="#383838">26</text>
<text transform="translate(217.12 230.8) scale(0.87 1)" text-anchor="middle" font-family='"Liberation Sans", sans-serif' font-size="8.2" fill="#383838">25</text>
<text transform="translate(225.15 230.8) scale(0.87 1)" text-anchor="middle" font-family='"Liberation Sans", sans-serif' font-size="8.2" fill="#383838">27</text>
<text transform="translate(234.48 230.8) scale(0.87 1)" text-anchor="middle" font-family='"Liberation Sans", sans-serif' font-size="8.2" fill="#383838">19</text>
<text transform="translate(242.51 230.8) scale(0.87 1)" text-anchor="middle" font-family='"Liberation Sans", sans-serif' font-size="8.2" fill="#383838">24</text>
<text x="49.4" y="130.55" textLength="92.5" font-family='"Liberation Serif", serif' font-size="9" fill="#383838">weight sorted by RELIEF</text>
<text x="143.9" y="130.55" textLength="35" font-family='"Liberation Serif", serif' font-size="9.4" fill="#383838">(α=95%)</text>
<text x="182.1" y="130.55" textLength="42.5" font-family='"Liberation Serif", serif' font-size="9.4" fill="#383838">—20cycles</text>
<text x="136.8" y="241.9" text-anchor="middle" textLength="55" font-family='"Liberation Serif", serif' font-size="9.5" fill="#383838">feature number</text>
<text transform="translate(8.7 178.38) rotate(-90)" text-anchor="middle" textLength="69.9" font-family='"Liberation Serif", serif' font-size="9.25" fill="#383838">normalizedweight</text>
<rect x="153.1" y="141.7" width="93.8" height="23.8" fill="#fff" stroke="#6e6e6e" stroke-width="1"/>
<rect x="155.9" y="142.45" width="24.2" height="10.7" fill="#eaffea"/>
<rect x="157.2" y="143.75" width="21.6" height="8.1" fill="#0c7a12" stroke="#064a09" stroke-width="0.6"/>
<rect x="155.9" y="153.75" width="24.2" height="10.4" fill="#efefff"/>
<rect x="157.2" y="155.05" width="21.6" height="7.8" fill="#0a0aee" stroke="#08088a" stroke-width="0.6"/>
<text transform="translate(181.3 151.85) scale(0.835 1)" font-family='"Liberation Sans", sans-serif' font-size="9.4" fill="#383838">selected feature</text>
<text transform="translate(181.3 162.85) scale(0.835 1)" font-family='"Liberation Sans", sans-serif' font-size="9.4" fill="#383838">eliminated feature</text>
</g>
<g>
<rect x="326.1" y="136.95" width="8" height="85.35" fill="#eeffee"/>
<rect x="334.1" y="143.99" width="8" height="78.31" fill="#eeffee"/>
<rect x="342.1" y="154.68" width="8" height="67.62" fill="#eeffee"/>
<rect x="350.1" y="159.86" width="8" height="62.44" fill="#eeffee"/>
<rect x="358.1" y="161.13" width="8" height="61.17" fill="#eeffee"/>
<rect x="366.1" y="164.7" width="8" height="57.6" fill="#eeffee"/>
<rect x="374.1" y="171.57" width="8" height="50.73" fill="#eeffee"/>
<rect x="382.1" y="179.63" width="8" height="42.67" fill="#eeffee"/>
<rect x="390.1" y="180.05" width="8" height="42.25" fill="#eeffee"/>
<rect x="398.1" y="180.05" width="8" height="42.25" fill="#eeffee"/>
<rect x="406.1" y="194.14" width="8" height="28.16" fill="#eeffee"/>
<rect x="414.1" y="195.33" width="8" height="26.97" fill="#eeffee"/>
<rect x="422.1" y="196.77" width="8" height="25.53" fill="#eeffee"/>
<rect x="430.1" y="197.96" width="8" height="24.34" fill="#eeffee"/>
<rect x="438.1" y="200.59" width="8" height="21.71" fill="#eeffee"/>
<rect x="446.1" y="205.76" width="8" height="16.54" fill="#eeffee"/>
<rect x="454.1" y="209.24" width="8" height="13.06" fill="#eeffee"/>
<rect x="462.1" y="209.58" width="8" height="12.72" fill="#eeffee"/>
<rect x="470.1" y="210.18" width="8" height="12.12" fill="#eeffee"/>
<rect x="478.1" y="211.62" width="8" height="10.68" fill="#f5f5ff"/>
<rect x="486.1" y="211.62" width="8" height="10.68" fill="#f5f5ff"/>
<rect x="494.1" y="216.03" width="8" height="6.27" fill="#f5f5ff"/>
<rect x="502.1" y="216.03" width="8" height="6.27" fill="#f5f5ff"/>
<rect x="510.1" y="216.62" width="8" height="5.68" fill="#f5f5ff"/>
<rect x="518.1" y="217.98" width="8" height="4.32" fill="#f5f5ff"/>
<rect x="526.1" y="218.58" width="8" height="3.72" fill="#f5f5ff"/>
<line x1="330.1" y1="222.3" x2="330.1" y2="220.1" stroke="#6e6e6e" stroke-width="0.8"/>
<rect x="328.25" y="137.7" width="3.7" height="84.6" fill="#0c7a12" stroke="#064a09" stroke-width="0.5"/>
<line x1="338.1" y1="222.3" x2="338.1" y2="220.1" stroke="#6e6e6e" stroke-width="0.8"/>
<rect x="336.25" y="144.74" width="3.7" height="77.56" fill="#0c7a12" stroke="#064a09" stroke-width="0.5"/>
<line x1="346.1" y1="222.3" x2="346.1" y2="220.1" stroke="#6e6e6e" stroke-width="0.8"/>
<rect x="344.25" y="155.43" width="3.7" height="66.87" fill="#0c7a12" stroke="#064a09" stroke-width="0.5"/>
<line x1="354.1" y1="222.3" x2="354.1" y2="220.1" stroke="#6e6e6e" stroke-width="0.8"/>
<rect x="352.25" y="160.61" width="3.7" height="61.69" fill="#0c7a12" stroke="#064a09" stroke-width="0.5"/>
<line x1="362.1" y1="222.3" x2="362.1" y2="220.1" stroke="#6e6e6e" stroke-width="0.8"/>
<rect x="360.25" y="161.88" width="3.7" height="60.42" fill="#0c7a12" stroke="#064a09" stroke-width="0.5"/>
<line x1="370.1" y1="222.3" x2="370.1" y2="220.1" stroke="#6e6e6e" stroke-width="0.8"/>
<rect x="368.25" y="165.45" width="3.7" height="56.85" fill="#0c7a12" stroke="#064a09" stroke-width="0.5"/>
<line x1="378.1" y1="222.3" x2="378.1" y2="220.1" stroke="#6e6e6e" stroke-width="0.8"/>
<rect x="376.25" y="172.32" width="3.7" height="49.98" fill="#0c7a12" stroke="#064a09" stroke-width="0.5"/>
<line x1="386.1" y1="222.3" x2="386.1" y2="220.1" stroke="#6e6e6e" stroke-width="0.8"/>
<rect x="384.25" y="180.38" width="3.7" height="41.92" fill="#0c7a12" stroke="#064a09" stroke-width="0.5"/>
<line x1="394.1" y1="222.3" x2="394.1" y2="220.1" stroke="#6e6e6e" stroke-width="0.8"/>
<rect x="392.25" y="180.8" width="3.7" height="41.5" fill="#0c7a12" stroke="#064a09" stroke-width="0.5"/>
<line x1="402.1" y1="222.3" x2="402.1" y2="220.1" stroke="#6e6e6e" stroke-width="0.8"/>
<rect x="400.25" y="180.8" width="3.7" height="41.5" fill="#0c7a12" stroke="#064a09" stroke-width="0.5"/>
<line x1="410.1" y1="222.3" x2="410.1" y2="220.1" stroke="#6e6e6e" stroke-width="0.8"/>
<rect x="408.25" y="194.89" width="3.7" height="27.41" fill="#0c7a12" stroke="#064a09" stroke-width="0.5"/>
<line x1="418.1" y1="222.3" x2="418.1" y2="220.1" stroke="#6e6e6e" stroke-width="0.8"/>
<rect x="416.25" y="196.08" width="3.7" height="26.22" fill="#0c7a12" stroke="#064a09" stroke-width="0.5"/>
<line x1="426.1" y1="222.3" x2="426.1" y2="220.1" stroke="#6e6e6e" stroke-width="0.8"/>
<rect x="424.25" y="197.52" width="3.7" height="24.78" fill="#0c7a12" stroke="#064a09" stroke-width="0.5"/>
<line x1="434.1" y1="222.3" x2="434.1" y2="220.1" stroke="#6e6e6e" stroke-width="0.8"/>
<rect x="432.25" y="198.71" width="3.7" height="23.59" fill="#0c7a12" stroke="#064a09" stroke-width="0.5"/>
<line x1="442.1" y1="222.3" x2="442.1" y2="220.1" stroke="#6e6e6e" stroke-width="0.8"/>
<rect x="440.25" y="201.34" width="3.7" height="20.96" fill="#0c7a12" stroke="#064a09" stroke-width="0.5"/>
<line x1="450.1" y1="222.3" x2="450.1" y2="220.1" stroke="#6e6e6e" stroke-width="0.8"/>
<rect x="448.25" y="206.51" width="3.7" height="15.79" fill="#0c7a12" stroke="#064a09" stroke-width="0.5"/>
<line x1="458.1" y1="222.3" x2="458.1" y2="220.1" stroke="#6e6e6e" stroke-width="0.8"/>
<rect x="456.25" y="209.99" width="3.7" height="12.31" fill="#0c7a12" stroke="#064a09" stroke-width="0.5"/>
<line x1="466.1" y1="222.3" x2="466.1" y2="220.1" stroke="#6e6e6e" stroke-width="0.8"/>
<rect x="464.25" y="210.33" width="3.7" height="11.97" fill="#0c7a12" stroke="#064a09" stroke-width="0.5"/>
<line x1="474.1" y1="222.3" x2="474.1" y2="220.1" stroke="#6e6e6e" stroke-width="0.8"/>
<rect x="472.25" y="210.93" width="3.7" height="11.37" fill="#0c7a12" stroke="#064a09" stroke-width="0.5"/>
<line x1="482.1" y1="222.3" x2="482.1" y2="220.1" stroke="#6e6e6e" stroke-width="0.8"/>
<rect x="480.25" y="212.37" width="3.7" height="9.93" fill="#0a0aee" stroke="#08088a" stroke-width="0.5"/>
<line x1="490.1" y1="222.3" x2="490.1" y2="220.1" stroke="#6e6e6e" stroke-width="0.8"/>
<rect x="488.25" y="212.37" width="3.7" height="9.93" fill="#0a0aee" stroke="#08088a" stroke-width="0.5"/>
<line x1="498.1" y1="222.3" x2="498.1" y2="220.1" stroke="#6e6e6e" stroke-width="0.8"/>
<rect x="496.25" y="216.78" width="3.7" height="5.52" fill="#0a0aee" stroke="#08088a" stroke-width="0.5"/>
<line x1="506.1" y1="222.3" x2="506.1" y2="220.1" stroke="#6e6e6e" stroke-width="0.8"/>
<rect x="504.25" y="216.78" width="3.7" height="5.52" fill="#0a0aee" stroke="#08088a" stroke-width="0.5"/>
<line x1="514.1" y1="222.3" x2="514.1" y2="220.1" stroke="#6e6e6e" stroke-width="0.8"/>
<rect x="512.25" y="217.37" width="3.7" height="4.93" fill="#0a0aee" stroke="#08088a" stroke-width="0.5"/>
<line x1="522.1" y1="222.3" x2="522.1" y2="220.1" stroke="#6e6e6e" stroke-width="0.8"/>
<rect x="520.25" y="218.73" width="3.7" height="3.57" fill="#0a0aee" stroke="#08088a" stroke-width="0.5"/>
<line x1="530.1" y1="222.3" x2="530.1" y2="220.1" stroke="#6e6e6e" stroke-width="0.8"/>
<rect x="528.25" y="219.33" width="3.7" height="2.97" fill="#0a0aee" stroke="#08088a" stroke-width="0.5"/>
<line x1="538.1" y1="222.3" x2="538.1" y2="220.1" stroke="#6e6e6e" stroke-width="0.8"/>
<rect x="536.25" y="222.13" width="3.7" height="0.17" fill="#0a0aee" stroke="#08088a" stroke-width="0.5"/>
<path d="M322.05 137.05V222.3H546.5" fill="none" stroke="#6e6e6e" stroke-width="1"/>
<line x1="322.05" y1="222.1" x2="324.45" y2="222.1" stroke="#6e6e6e" stroke-width="0.9"/>
<text transform="translate(319.42 224.7) scale(0.87 1)" text-anchor="end" font-family='"Liberation Sans", sans-serif' font-size="8.2" fill="#383838">0</text>
<line x1="322.05" y1="179.68" x2="324.45" y2="179.68" stroke="#6e6e6e" stroke-width="0.9"/>
<text transform="translate(319.42 182.28) scale(0.87 1)" text-anchor="end" font-family='"Liberation Sans", sans-serif' font-size="8.2" fill="#383838">0.5</text>
<line x1="322.05" y1="137.25" x2="324.45" y2="137.25" stroke="#6e6e6e" stroke-width="0.9"/>
<text transform="translate(319.42 139.85) scale(0.87 1)" text-anchor="end" font-family='"Liberation Sans", sans-serif' font-size="8.2" fill="#383838">1</text>
<text transform="translate(328.4 230.8) scale(0.87 1)" text-anchor="middle" font-family='"Liberation Sans", sans-serif' font-size="8.2" fill="#383838">5</text>
<text transform="translate(336.4 230.8) scale(0.87 1)" text-anchor="middle" font-family='"Liberation Sans", sans-serif' font-size="8.2" fill="#383838">4</text>
<text transform="translate(344.4 230.8) scale(0.87 1)" text-anchor="middle" font-family='"Liberation Sans", sans-serif' font-size="8.2" fill="#383838">8</text>
<text transform="translate(352.4 230.8) scale(0.87 1)" text-anchor="middle" font-family='"Liberation Sans", sans-serif' font-size="8.2" fill="#383838">1</text>
<text transform="translate(360.4 230.8) scale(0.87 1)" text-anchor="middle" font-family='"Liberation Sans", sans-serif' font-size="8.2" fill="#383838">7</text>
<text transform="translate(368.4 230.8) scale(0.87 1)" text-anchor="middle" font-family='"Liberation Sans", sans-serif' font-size="8.2" fill="#383838">9</text>
<text transform="translate(376.4 230.8) scale(0.87 1)" text-anchor="middle" font-family='"Liberation Sans", sans-serif' font-size="8.2" fill="#383838">2</text>
<text transform="translate(385.9 230.8) scale(0.87 1)" text-anchor="middle" font-family='"Liberation Sans", sans-serif' font-size="8.2" fill="#383838">10</text>
<text transform="translate(392.4 230.8) scale(0.87 1)" text-anchor="middle" font-family='"Liberation Sans", sans-serif' font-size="8.2" fill="#383838">6</text>
<text transform="translate(401.9 230.8) scale(0.87 1)" text-anchor="middle" font-family='"Liberation Sans", sans-serif' font-size="8.2" fill="#383838">15</text>
<text transform="translate(409.9 230.8) scale(0.87 1)" text-anchor="middle" font-family='"Liberation Sans", sans-serif' font-size="8.2" fill="#383838">14</text>
<text transform="translate(416.4 230.8) scale(0.87 1)" text-anchor="middle" font-family='"Liberation Sans", sans-serif' font-size="8.2" fill="#383838">3</text>
<text transform="translate(425.9 230.8) scale(0.87 1)" text-anchor="middle" font-family='"Liberation Sans", sans-serif' font-size="8.2" fill="#383838">13</text>
<text transform="translate(433.9 230.8) scale(0.87 1)" text-anchor="middle" font-family='"Liberation Sans", sans-serif' font-size="8.2" fill="#383838">12</text>
<text transform="translate(441.5 230.8) scale(0.87 1)" text-anchor="middle" font-family='"Liberation Sans", sans-serif' font-size="8.2" fill="#383838">11</text>
<text transform="translate(449.2 230.8) scale(0.87 1)" text-anchor="middle" font-family='"Liberation Sans", sans-serif' font-size="8.2" fill="#383838">17</text>
<text transform="translate(456.8 230.8) scale(0.87 1)" text-anchor="middle" font-family='"Liberation Sans", sans-serif' font-size="8.2" fill="#383838">21</text>
<text transform="translate(464.8 230.8) scale(0.87 1)" text-anchor="middle" font-family='"Liberation Sans", sans-serif' font-size="8.2" fill="#383838">20</text>
<text transform="translate(472.8 230.8) scale(0.87 1)" text-anchor="middle" font-family='"Liberation Sans", sans-serif' font-size="8.2" fill="#383838">18</text>
<text transform="translate(480.8 230.8) scale(0.87 1)" text-anchor="middle" font-family='"Liberation Sans", sans-serif' font-size="8.2" fill="#383838">16</text>
<text transform="translate(488.8 230.8) scale(0.87 1)" text-anchor="middle" font-family='"Liberation Sans", sans-serif' font-size="8.2" fill="#383838">22</text>
<text transform="translate(496.8 230.8) scale(0.87 1)" text-anchor="middle" font-family='"Liberation Sans", sans-serif' font-size="8.2" fill="#383838">26</text>
<text transform="translate(504.8 230.8) scale(0.87 1)" text-anchor="middle" font-family='"Liberation Sans", sans-serif' font-size="8.2" fill="#383838">23</text>
<text transform="translate(512.8 230.8) scale(0.87 1)" text-anchor="middle" font-family='"Liberation Sans", sans-serif' font-size="8.2" fill="#383838">25</text>
<text transform="translate(520.8 230.8) scale(0.87 1)" text-anchor="middle" font-family='"Liberation Sans", sans-serif' font-size="8.2" fill="#383838">27</text>
<text transform="translate(530.1 230.8) scale(0.87 1)" text-anchor="middle" font-family='"Liberation Sans", sans-serif' font-size="8.2" fill="#383838">19</text>
<text transform="translate(538.1 230.8) scale(0.87 1)" text-anchor="middle" font-family='"Liberation Sans", sans-serif' font-size="8.2" fill="#383838">24</text>
<text x="345.2" y="130.55" textLength="92.5" font-family='"Liberation Serif", serif' font-size="9" fill="#383838">weight sorted by RELIEF</text>
<text x="439.7" y="130.55" textLength="35" font-family='"Liberation Serif", serif' font-size="9.4" fill="#383838">(α=95%)</text>
<text x="477.9" y="130.55" textLength="42.5" font-family='"Liberation Serif", serif' font-size="9.4" fill="#383838">—25cycles</text>
<text x="432.6" y="241.9" text-anchor="middle" textLength="55" font-family='"Liberation Serif", serif' font-size="9.5" fill="#383838">feature number</text>
<text transform="translate(305.4 178.38) rotate(-90)" text-anchor="middle" textLength="69.9" font-family='"Liberation Serif", serif' font-size="9.25" fill="#383838">normalizedweight</text>
<rect x="448.9" y="141.7" width="93.8" height="23.8" fill="#fff" stroke="#6e6e6e" stroke-width="1"/>
<rect x="452.1" y="142.45" width="24.2" height="10.7" fill="#eaffea"/>
<rect x="453.4" y="143.75" width="21.6" height="8.1" fill="#0c7a12" stroke="#064a09" stroke-width="0.6"/>
<rect x="452.1" y="153.75" width="24.2" height="10.4" fill="#efefff"/>
<rect x="453.4" y="155.05" width="21.6" height="7.8" fill="#0a0aee" stroke="#08088a" stroke-width="0.6"/>
<text transform="translate(477.1 151.85) scale(0.835 1)" font-family='"Liberation Sans", sans-serif' font-size="9.4" fill="#383838">selected feature</text>
<text transform="translate(477.1 162.85) scale(0.835 1)" font-family='"Liberation Sans", sans-serif' font-size="9.4" fill="#383838">eliminated feature</text>
</g>
</svg>
<div class="cap">(<b>b</b>)</div>
</body>
</html>
